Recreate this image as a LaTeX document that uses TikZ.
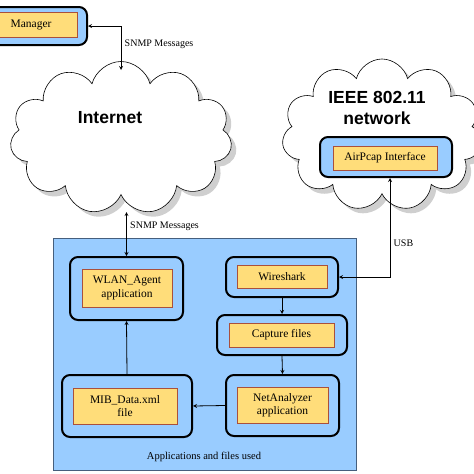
\documentclass[tikz,border=0pt]{standalone}
\usepackage{fontspec}
\setmainfont{Liberation Serif}
\newfontfamily\headfont{Liberation Sans}
\usetikzlibrary{shapes.symbols,shadows}

\definecolor{paleblue}{RGB}{153,204,255}
\definecolor{paleyellow}{RGB}{255,221,122}
\definecolor{rimred}{RGB}{170,80,60}
\definecolor{rimblue}{RGB}{70,95,125}

\tikzset{
  outerbox/.style={draw=black, line width=2pt, rounded corners=8pt, fill=paleblue},
  innerbox/.style={draw=rimred, line width=0.6pt, fill=paleyellow, align=center,
    font=\fontsize{11.5}{13.5}\selectfont},
  netcloud/.style={cloud, cloud puffs=11, cloud ignores aspect, draw=black, fill=white,
    line width=0.6pt, drop shadow={shadow xshift=5pt, shadow yshift=-5pt, fill=gray!75}},
  cloudtitle/.style={font=\headfont\bfseries\fontsize{17.5}{21}\selectfont, align=center},
  msg/.style={font=\fontsize{10}{12}\selectfont},
  link/.style={line width=0.8pt, >=stealth}
}

\begin{document}
\begin{tikzpicture}[x=1pt,y=-1pt]
\useasboundingbox (0,0) rectangle (474,474);
\clip (0,0) rectangle (474,474);

% clouds
\node[netcloud, minimum width=222, minimum height=153] (internet) at (121,138) {};
\node[cloudtitle] (internettitle) at (110,118) {Internet};
\node[netcloud, minimum width=200, minimum height=152] (wifi) at (382,135) {};
\node[cloudtitle] (wifititle) at (377,108) {IEEE 802.11\\network};

% manager
\node[outerbox, minimum width=112, minimum height=38] (managerout) at (31,26) {};
\node[innerbox, minimum width=92, minimum height=25] (manager) at (31,24.5) {Manager};

% airpcap
\node[outerbox, minimum width=132, minimum height=40] (airpcapout) at (386,157) {};
\node[innerbox, minimum width=104, minimum height=24] (airpcap) at (385,158) {AirPcap Interface};

% applications
\node[draw=rimblue, line width=0.6pt, fill=paleblue, minimum width=303, minimum height=232] (apps) at (204.5,354) {};
\node[msg, font=\fontsize{10.5}{12}\selectfont] (appslabel) at (204,457) {Applications and files used};

\node[outerbox, minimum width=113, minimum height=63] (wlanout) at (126.5,288.5) {};
\node[innerbox, minimum width=90, minimum height=38] (wlan) at (127,288) {WLAN\_Agent\\application};

\node[outerbox, minimum width=130, minimum height=62] (mibout) at (127,406) {};
\node[innerbox, minimum width=104, minimum height=36] (mib) at (125,406) {MIB\_Data.xml\\file};

\node[outerbox, minimum width=112, minimum height=40] (wiresharkout) at (282,277) {};
\node[innerbox, minimum width=90, minimum height=23] (wireshark) at (282,276.5) {Wireshark};

\node[outerbox, minimum width=130, minimum height=40] (captureout) at (282,335) {};
\node[innerbox, minimum width=105, minimum height=24] (capture) at (281.5,335) {Capture files};

\node[outerbox, minimum width=113, minimum height=61] (netanout) at (282.5,405.5) {};
\node[innerbox, minimum width=91, minimum height=36] (netan) at (282.5,405) {NetAnalyzer\\application};

% connectors
\coordinate (internettop) at (121,70);
\coordinate (internetbottom) at (126.5,212);
\draw[link,<->] (managerout.east) -| (internettop)
  node[msg, pos=0.71, right] {SNMP Messages};
\draw[link,<->] (internetbottom) -- (wlanout.north)
  node[msg, pos=0.33, right] {SNMP Messages};
\draw[link,<->] ([xshift=4pt]airpcapout.south) |- (wiresharkout.east)
  node[msg, pos=0.33, right] {USB};
\draw[link,->] (wiresharkout.south) -- (captureout.north);
\draw[link,->] (captureout.south) -- (netanout.north);
\draw[link,->] (netanout.west) -- (mibout.east);
\draw[link,->] (mibout.north) -- (wlanout.south);
\end{tikzpicture}
\end{document}
